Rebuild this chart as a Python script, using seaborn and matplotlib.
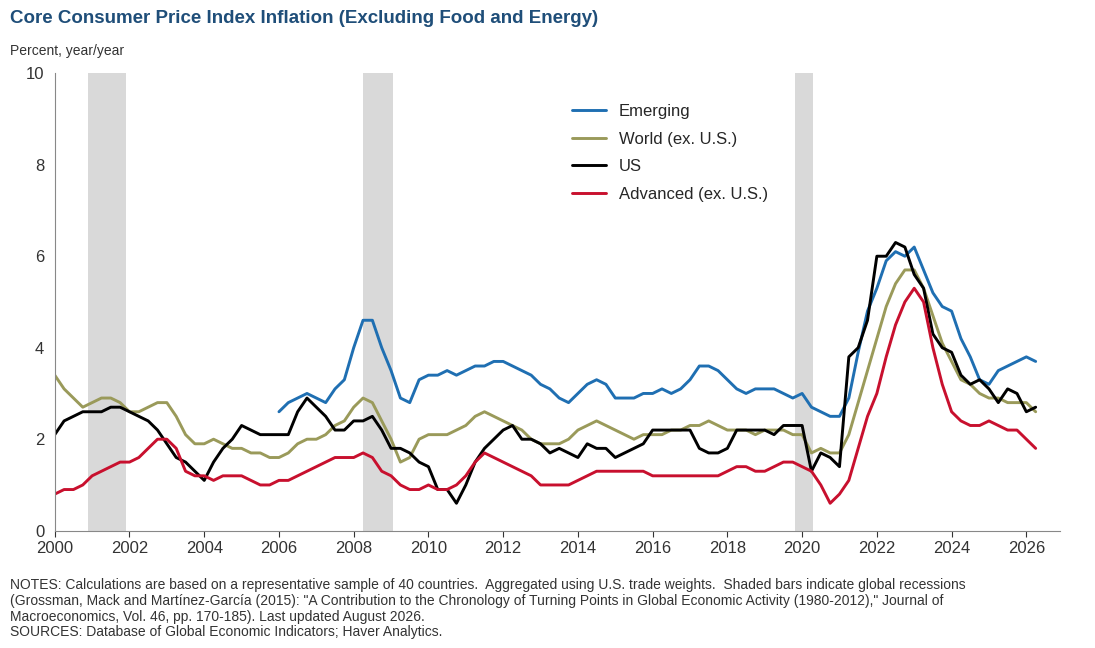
import numpy as np
import pandas as pd
import seaborn as sns
import matplotlib.pyplot as plt

# quarterly readings
us = [2.1, 2.4, 2.5, 2.6, 2.6, 2.6, 2.7, 2.7, 2.6, 2.5, 2.4, 2.2, 1.9, 1.6, 1.5, 1.3,
      1.1, 1.5, 1.8, 2.0, 2.3, 2.2, 2.1, 2.1, 2.1, 2.1, 2.6, 2.9, 2.7, 2.5, 2.2, 2.2,
      2.4, 2.4, 2.5, 2.2, 1.8, 1.8, 1.7, 1.5, 1.4, 0.9, 0.9, 0.6, 1.0, 1.5, 1.8, 2.0,
      2.2, 2.3, 2.0, 2.0, 1.9, 1.7, 1.8, 1.7, 1.6, 1.9, 1.8, 1.8, 1.6, 1.7, 1.8, 1.9,
      2.2, 2.2, 2.2, 2.2, 2.2, 1.8, 1.7, 1.7, 1.8, 2.2, 2.2, 2.2, 2.2, 2.1, 2.3, 2.3,
      2.3, 1.3, 1.7, 1.6, 1.4, 3.8, 4.0, 4.6, 6.0, 6.0, 6.3, 6.2, 5.6, 5.3, 4.3, 4.0,
      3.9, 3.4, 3.2, 3.3, 3.1, 2.8, 3.1, 3.0, 2.6, 2.7]
emerging = [2.6, 2.8, 2.9, 3.0, 2.9, 2.8, 3.1, 3.3, 4.0, 4.6, 4.6, 4.0, 3.5, 2.9, 2.8, 3.3,
            3.4, 3.4, 3.5, 3.4, 3.5, 3.6, 3.6, 3.7, 3.7, 3.6, 3.5, 3.4, 3.2, 3.1, 2.9, 2.8,
            3.0, 3.2, 3.3, 3.2, 2.9, 2.9, 2.9, 3.0, 3.0, 3.1, 3.0, 3.1, 3.3, 3.6, 3.6, 3.5,
            3.3, 3.1, 3.0, 3.1, 3.1, 3.1, 3.0, 2.9, 3.0, 2.7, 2.6, 2.5, 2.5, 2.9, 3.9, 4.8,
            5.3, 5.9, 6.1, 6.0, 6.2, 5.7, 5.2, 4.9, 4.8, 4.2, 3.8, 3.3, 3.2, 3.5, 3.6, 3.7,
            3.8, 3.7]
world = [3.4, 3.1, 2.9, 2.7, 2.8, 2.9, 2.9, 2.8, 2.6, 2.6, 2.7, 2.8, 2.8, 2.5, 2.1, 1.9,
         1.9, 2.0, 1.9, 1.8, 1.8, 1.7, 1.7, 1.6, 1.6, 1.7, 1.9, 2.0, 2.0, 2.1, 2.3, 2.4,
         2.7, 2.9, 2.8, 2.4, 2.0, 1.5, 1.6, 2.0, 2.1, 2.1, 2.1, 2.2, 2.3, 2.5, 2.6, 2.5,
         2.4, 2.3, 2.2, 2.0, 1.9, 1.9, 1.9, 2.0, 2.2, 2.3, 2.4, 2.3, 2.2, 2.1, 2.0, 2.1,
         2.1, 2.1, 2.2, 2.2, 2.3, 2.3, 2.4, 2.3, 2.2, 2.2, 2.2, 2.1, 2.2, 2.2, 2.2, 2.1,
         2.1, 1.7, 1.8, 1.7, 1.7, 2.1, 2.8, 3.5, 4.2, 4.9, 5.4, 5.7, 5.7, 5.3, 4.7, 4.1,
         3.7, 3.3, 3.2, 3.0, 2.9, 2.9, 2.8, 2.8, 2.8, 2.6]
advanced = [0.8, 0.9, 0.9, 1.0, 1.2, 1.3, 1.4, 1.5, 1.5, 1.6, 1.8, 2.0, 2.0, 1.8, 1.3, 1.2,
            1.2, 1.1, 1.2, 1.2, 1.2, 1.1, 1.0, 1.0, 1.1, 1.1, 1.2, 1.3, 1.4, 1.5, 1.6, 1.6,
            1.6, 1.7, 1.6, 1.3, 1.2, 1.0, 0.9, 0.9, 1.0, 0.9, 0.9, 1.0, 1.2, 1.5, 1.7, 1.6,
            1.5, 1.4, 1.3, 1.2, 1.0, 1.0, 1.0, 1.0, 1.1, 1.2, 1.3, 1.3, 1.3, 1.3, 1.3, 1.3,
            1.2, 1.2, 1.2, 1.2, 1.2, 1.2, 1.2, 1.2, 1.3, 1.4, 1.4, 1.3, 1.3, 1.4, 1.5, 1.5,
            1.4, 1.3, 1.0, 0.6, 0.8, 1.1, 1.8, 2.5, 3.0, 3.8, 4.5, 5.0, 5.3, 5.0, 4.0, 3.2,
            2.6, 2.4, 2.3, 2.3, 2.4, 2.3, 2.2, 2.2, 2.0, 1.8]
recessions = [(2000.9, 2001.9), (2008.25, 2009.05), (2019.8, 2020.3)]

def quarters(start, n):
    return [start + 0.25 * i for i in range(n)]

frames = []
for name, vals, start in [("Emerging", emerging, 2006.0), ("World (ex. U.S.)", world, 2000.0),
                          ("US", us, 2000.0), ("Advanced (ex. U.S.)", advanced, 2000.0)]:
    frames.append(pd.DataFrame({"date": quarters(start, len(vals)), "value": vals, "series": name}))
df = pd.concat(frames)

palette = {"Emerging": "#1f6fb2", "World (ex. U.S.)": "#9a9a5a",
           "US": "#000000", "Advanced (ex. U.S.)": "#c8102e"}

sns.set_style("white")
plt.rcParams['font.family'] = ['Liberation Sans', 'DejaVu Sans']
fig = plt.figure(figsize=(10.95, 6.48), dpi=100)
ax = fig.add_axes([0.05, 0.181, 0.918, 0.706])

for a, b in recessions:
    ax.axvspan(a, b, color="#d9d9d9", lw=0)
sns.lineplot(data=df, x="date", y="value", hue="series", palette=palette, lw=2.1, ax=ax)

ax.set_xlim(2000, 2026.9)
ax.set_ylim(0, 10)
ax.set_xticks(range(2000, 2027, 2))
ax.set_yticks(range(0, 11, 2))
ax.tick_params(labelsize=12, colors="#333333", length=4, direction="out", bottom=True)
ax.set_xlabel("")
ax.set_ylabel("")
for s in ["top", "right"]:
    ax.spines[s].set_visible(False)
for s in ["left", "bottom"]:
    ax.spines[s].set_color("#888888")
ax.legend(loc="upper left", bbox_to_anchor=(0.5, 0.965), frameon=False, fontsize=12,
          handlelength=2.0, labelspacing=0.75, title=None)

fig.text(0.009, 0.965, "Core Consumer Price Index Inflation (Excluding Food and Energy)",
         fontsize=13.5, fontweight="bold", color="#1f4e79")
fig.text(0.009, 0.915, "Percent, year/year", fontsize=10, color="#333333")
fig.text(0.009, 0.018,
         "NOTES: Calculations are based on a representative sample of 40 countries.  Aggregated using U.S. trade weights.  Shaded bars indicate global recessions\n"
         "(Grossman, Mack and Martínez-García (2015): \"A Contribution to the Chronology of Turning Points in Global Economic Activity (1980-2012),\" Journal of\n"
         "Macroeconomics, Vol. 46, pp. 170-185). Last updated August 2026.\n"
         "SOURCES: Database of Global Economic Indicators; Haver Analytics.",
         fontsize=10, color="#333333", linespacing=1.15)

fig.savefig("out.png", dpi=100)
